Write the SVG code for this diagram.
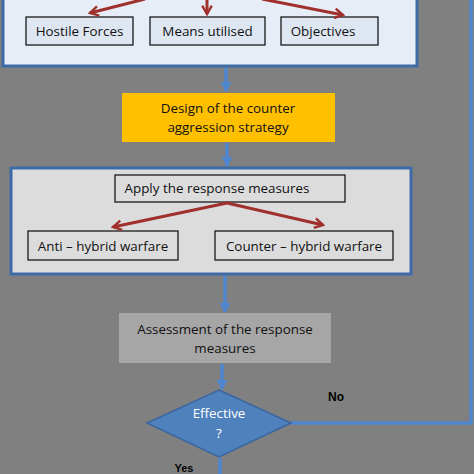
<svg xmlns="http://www.w3.org/2000/svg" width="474" height="474" viewBox="0 0 474 474">
<defs>
<style>
text{font-family:"Open Sans","DejaVu Sans",sans-serif;font-size:13.4px;fill:#111;text-anchor:middle}
.big{stroke:#3f6aa8;stroke-width:3}
.inner{stroke:#1a1a1a;stroke-width:1.3}
.red{stroke:#a0302c;stroke-width:3;fill:none}
.blue{stroke:#4f86d0;stroke-width:3.5;fill:none}
</style>
<marker id="ra" viewBox="0 0 10 10" refX="8" refY="5" markerWidth="4" markerHeight="4" orient="auto" markerUnits="strokeWidth">
<path d="M1,1 L8,5 L1,9" fill="none" stroke="#a0302c" stroke-width="2"/>
</marker>
<marker id="ba" viewBox="0 0 10 10" refX="8" refY="5" markerWidth="3.2" markerHeight="3.2" orient="auto" markerUnits="strokeWidth">
<path d="M0,0 L9,5 L0,10 z" fill="#4f86d0"/>
</marker>
</defs>
<rect x="0" y="0" width="474" height="474" fill="#808080"/>

<g id="top-box">
<rect class="big" x="3" y="-10" width="414" height="76" fill="#e6edf6"/>
</g>
<g id="hostile-forces">
<rect class="inner" x="26" y="17" width="107" height="28" fill="#dde6f1"/>
<text x="79.5" y="36">Hostile Forces</text>
</g>
<g id="means-utilised">
<rect class="inner" x="150" y="17" width="115" height="28" fill="#dde6f1"/>
<text x="207.5" y="36">Means utilised</text>
</g>
<g id="objectives">
<rect class="inner" x="281" y="17" width="97" height="28" fill="#dde6f1"/>
<text x="323" y="36">Objectives</text>
</g>

<g id="design">
<rect x="122" y="93" width="213" height="49" fill="#ffc000"/>
<text x="228" y="113">Design of the counter</text>
<text x="228" y="132">aggression strategy</text>
</g>

<g id="middle-box">
<rect class="big" x="11" y="168" width="400" height="106" fill="#dcdcdc"/>
</g>
<g id="apply">
<rect class="inner" x="115" y="175" width="230" height="27" fill="#dcdcdc"/>
<text x="217" y="193">Apply the response measures</text>
</g>
<g id="anti">
<rect class="inner" x="28" y="231" width="150" height="29" fill="#dcdcdc"/>
<text x="103" y="251">Anti – hybrid warfare</text>
</g>
<g id="counter">
<rect class="inner" x="215" y="231" width="178" height="29" fill="#dcdcdc"/>
<text x="304" y="251">Counter – hybrid warfare</text>
</g>

<g id="assessment">
<rect x="119" y="313" width="212" height="50" fill="#a6a6a6"/>
<text x="225" y="334">Assessment of the response</text>
<text x="225" y="353">measures</text>
</g>

<g id="connectors">
<line class="red" x1="145" y1="-1" x2="90" y2="13" marker-end="url(#ra)"/>
<line class="red" x1="207" y1="-1" x2="207" y2="14" marker-end="url(#ra)"/>
<line class="red" x1="262" y1="-1" x2="343" y2="15" marker-end="url(#ra)"/>
<line class="blue" x1="226" y1="68" x2="226" y2="91" marker-end="url(#ba)"/>
<line class="blue" x1="227" y1="143" x2="227" y2="166" marker-end="url(#ba)"/>
<line class="red" x1="227" y1="203" x2="113" y2="227" marker-end="url(#ra)"/>
<line class="red" x1="227" y1="203" x2="323" y2="225" marker-end="url(#ra)"/>
<line class="blue" x1="225" y1="276" x2="225" y2="312" marker-end="url(#ba)"/>
<line class="blue" x1="222" y1="364" x2="222" y2="389" marker-end="url(#ba)"/>
<polyline class="blue" points="291,423 471,423 471,0"/>
<line class="blue" x1="220" y1="458" x2="220" y2="474"/>
</g>

<g id="effective">
<polygon points="219,390 291,423 219,457 147,423" fill="#4f81bd" stroke="#3a66a0" stroke-width="1.5"/>
<text x="219" y="418" style="fill:#fff">Effective</text>
<text x="219" y="438" style="fill:#fff">?</text>
</g>

<text x="336" y="401" style="font-family:'Liberation Sans',sans-serif;font-weight:bold;font-size:12px;fill:#000">No</text>
<text x="184" y="472" style="font-family:'Liberation Sans',sans-serif;font-weight:bold;font-size:11px;fill:#000">Yes</text>
</svg>
